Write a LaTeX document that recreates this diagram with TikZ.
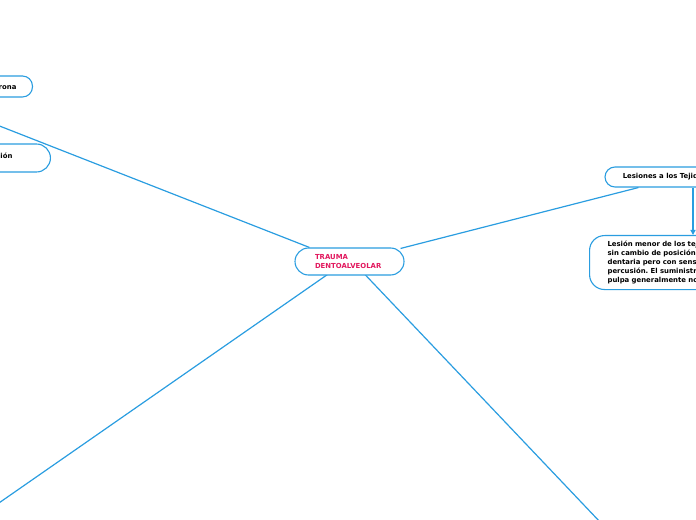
\documentclass[tikz,border=0pt]{standalone}
\usepackage{fontspec}
\setmainfont{DejaVu Sans}
\usetikzlibrary{calc,arrows.meta}
\definecolor{lnblue}{HTML}{2A9DE0}
\definecolor{titlepink}{HTML}{E2185E}
\pgfdeclarelayer{bg}
\pgfsetlayers{bg,main}
\frenchspacing
\tikzset{
  mmbox/.style={draw=lnblue, line width=1.1bp, fill=white, rounded corners=10bp,
    font=\fontsize{6.9bp}{9bp}\selectfont\bfseries, text=black},
  conn/.style={draw=lnblue, line width=1.2bp},
}
\begin{document}
\begin{tikzpicture}[x=1bp,y=-1bp]
\useasboundingbox (0,0) rectangle (696,520);
% central node
\node[mmbox, rounded corners=13.5bp, minimum width=109bp, minimum height=27bp,
  text width=69bp, inner xsep=20bp, align=left, text=titlepink]
  (c) at (349.5,261.5) {TRAUMA\\DENTOALVEOLAR};
% left (cropped) nodes
\node[mmbox, anchor=east, minimum height=21bp, inner xsep=16bp] (corona) at (33,86.5) {Corona};
\node[mmbox, anchor=east, rounded corners=14bp, minimum height=28bp, inner xsep=38bp,
  text width=60bp, align=right, text depth=5bp] (lux) at (51,158) {Luxación};
% right nodes
\node[mmbox, minimum width=176bp, minimum height=20bp] (tej) at (693,177)
  {Lesiones a los Tejidos Periodontales};
\node[mmbox, rounded corners=15bp, anchor=north west, minimum height=54bp,
  text width=174bp, inner xsep=18bp, align=left] (les) at (589,235)
  {Lesión menor de los tejidos de soporte\\sin cambio de posición ni movilidad\\dentaria pero con sensibilidad a la\\percusión. El suministro sanguíneo a la\\pulpa generalmente no se ve afectado.};
% off-page ends
\coordinate (offA) at (-100,87);
\coordinate (offB) at (-50,537);
\coordinate (offC) at (620,543);
\begin{pgfonlayer}{bg}
\draw[conn] ($(c.north west)+(15,0)$) -- (offA);
\draw[conn] ($(c.north east)+(-4,1)$) -- ($(tej.south west)+(34,0)$);
\draw[conn] ($(c.south west)+(33,-1)$) -- (offB);
\draw[conn] ($(c.south)+(15.5,-1)$) -- (offC);
\end{pgfonlayer}
\draw[conn, -{Triangle[length=5bp,width=5bp]}] (tej.south) -- (tej.south |- les.north);
\end{tikzpicture}
\end{document}
